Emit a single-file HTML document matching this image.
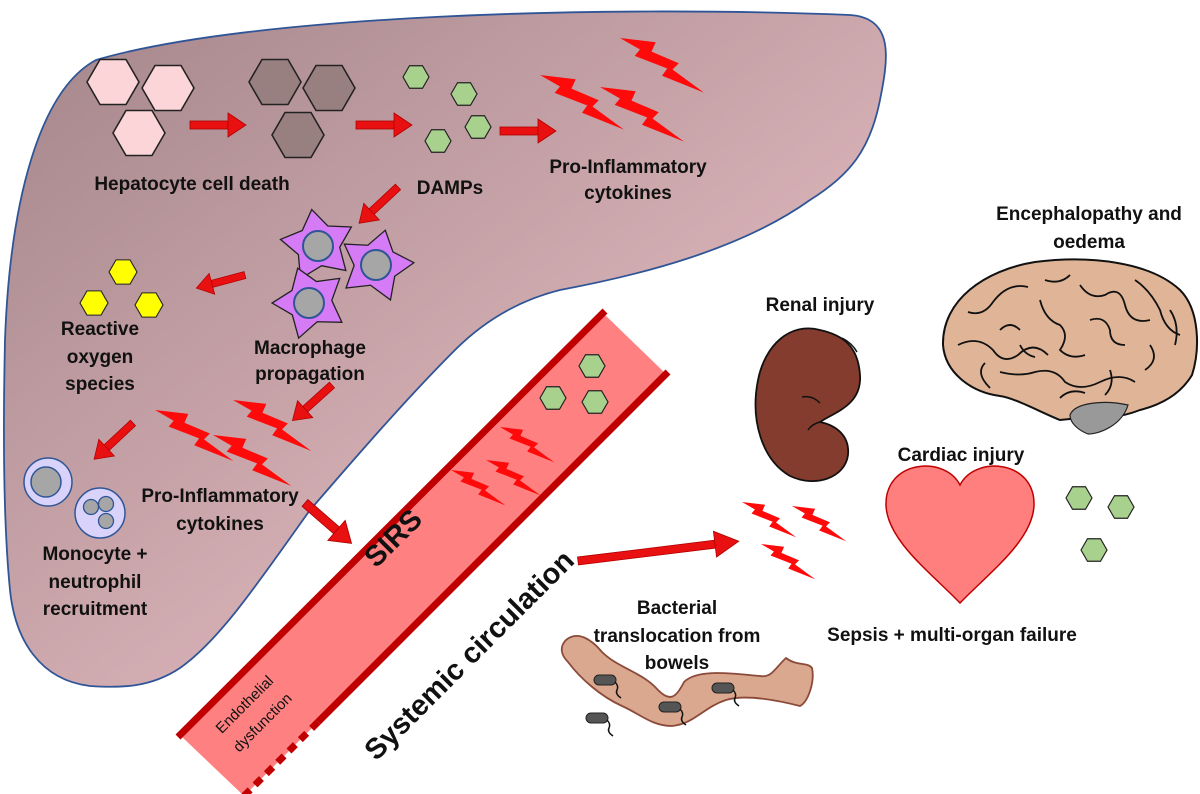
<!DOCTYPE html>
<html><head><meta charset="utf-8"><style>
html,body{margin:0;padding:0;background:#fff}
svg{display:block}
text{font-family:"Liberation Sans",sans-serif;font-weight:bold;fill:#111}
</style></head><body>
<svg width="1200" height="794" viewBox="0 0 1200 794" xmlns="http://www.w3.org/2000/svg">
<defs>
<linearGradient id="lg" x1="0" y1="0" x2="1" y2="1">
<stop offset="0" stop-color="#a3858a"/><stop offset="0.6" stop-color="#d4aeb3"/><stop offset="1" stop-color="#e2bcc0"/>
</linearGradient>
<path id="bolt" d="M0,0 L34,4 L30,13 L56,24 L50,30 L80,52 L40,36 L45,29 L14,17 L19,11 Z" fill="#ff0a0a"/>
<polygon id="hx" points="-1,0 -0.5,-0.866 0.5,-0.866 1,0 0.5,0.866 -0.5,0.866"/>
<g id="arr"><rect x="0" y="-4" width="40" height="8" fill="#e81010" stroke="#b00000" stroke-width="0.8"/><polygon points="38,-12 56,0 38,12" fill="#e81010" stroke="#b00000" stroke-width="0.8"/></g>
<path id="star" d="M0,-36 L13,-17 L36,-12 L21,6 L23,30 L0,21 L-23,30 L-21,6 L-36,-12 L-13,-17 Z" fill="#d57bf5" stroke="#222" stroke-width="1.3"/>
<g id="bac"><rect x="-11" y="-5" width="22" height="10" rx="5" fill="#555" stroke="#222"/><path d="M10,2 q4,4 2,8 q-2,4 4,8" stroke="#111" fill="none" stroke-width="1.5"/></g>
</defs>

<path d="M96,60 C250,15 600,5 850,15 C895,18 888,60 880,100 C870,150 850,175 810,200 C740,250 640,275 560,290 C520,300 485,320 455,350 C400,405 345,470 310,510 C260,580 220,640 180,668 C150,688 120,688 90,686 C40,680 15,640 10,590 C3,520 3,430 5,340 C10,200 40,90 96,60 Z" fill="url(#lg)" stroke="#2f5597" stroke-width="1.8"/>

<g stroke="#222" stroke-width="0.06">
<use href="#hx" transform="translate(113,82) scale(26)" fill="#fcd5d8"/>
<use href="#hx" transform="translate(168,88) scale(26)" fill="#fcd5d8"/>
<use href="#hx" transform="translate(139,133) scale(26)" fill="#fcd5d8"/>
<use href="#hx" transform="translate(275,82) scale(26)" fill="#998080"/>
<use href="#hx" transform="translate(329,88) scale(26)" fill="#998080"/>
<use href="#hx" transform="translate(298,135) scale(26)" fill="#998080"/>
</g>
<g fill="#a9d18e" stroke="#222" stroke-width="0.09">
<use href="#hx" transform="translate(416,77) scale(13)"/>
<use href="#hx" transform="translate(464,94) scale(13)"/>
<use href="#hx" transform="translate(478,127) scale(13)"/>
<use href="#hx" transform="translate(438,141) scale(13)"/>
</g>
<g fill="#ffff00" stroke="#222" stroke-width="0.08">
<use href="#hx" transform="translate(123,272) scale(14)"/>
<use href="#hx" transform="translate(94,303) scale(14)"/>
<use href="#hx" transform="translate(149,305) scale(14)"/>
</g>

<use href="#arr" transform="translate(190,125)"/>
<use href="#arr" transform="translate(356,125)"/>
<use href="#arr" transform="translate(500,131)"/>
<use href="#arr" transform="translate(398,187) rotate(137) scale(0.95)"/>
<use href="#arr" transform="translate(245,275) rotate(165) scale(0.9)"/>
<use href="#arr" transform="translate(332,385) rotate(138) scale(0.95)"/>
<use href="#arr" transform="translate(133,423) rotate(137) scale(0.95)"/>
<use href="#arr" transform="translate(305,503) rotate(41) scale(1.1)"/>
<g transform="translate(578,561) rotate(-7)"><rect x="0" y="-4" width="140" height="8" fill="#e81010" stroke="#b00000" stroke-width="0.8"/><polygon points="138,-13 162,0 138,13" fill="#e81010" stroke="#b00000" stroke-width="0.8"/></g>

<g><use href="#star" transform="translate(318,245) rotate(-10)"/><circle cx="318" cy="246" r="15" fill="#a6a6a6" stroke="#2f5597" stroke-width="2"/></g>
<g><use href="#star" transform="translate(376,265) rotate(15)"/><circle cx="376" cy="265" r="15" fill="#a6a6a6" stroke="#2f5597" stroke-width="2"/></g>
<g><use href="#star" transform="translate(310,302) rotate(-20)"/><circle cx="309" cy="303" r="15" fill="#a6a6a6" stroke="#2f5597" stroke-width="2"/></g>

<circle cx="48" cy="482" r="24" fill="#d9d2fb" stroke="#2f5597" stroke-width="1.5"/>
<circle cx="46" cy="482" r="15" fill="#a6a6a6" stroke="#2f5597" stroke-width="1.5"/>
<circle cx="100" cy="513" r="25" fill="#d9d2fb" stroke="#2f5597" stroke-width="1.5"/>
<circle cx="91" cy="507" r="7.5" fill="#a6a6a6" stroke="#2f5597" stroke-width="1.3"/>
<circle cx="106" cy="504" r="7.5" fill="#a6a6a6" stroke="#2f5597" stroke-width="1.3"/>
<circle cx="106" cy="521" r="7.5" fill="#a6a6a6" stroke="#2f5597" stroke-width="1.3"/>

<use href="#bolt" transform="translate(540,75) scale(1.05)"/>
<use href="#bolt" transform="translate(600,87) scale(1.05)"/>
<use href="#bolt" transform="translate(620,38) scale(1.05)"/>
<use href="#bolt" transform="translate(155,410) scale(0.98)"/>
<use href="#bolt" transform="translate(233,400) scale(0.98)"/>
<use href="#bolt" transform="translate(213,435) scale(0.98)"/>

<polygon points="180,735 603,313 666,374 244,796" fill="#ff8080"/>
<line x1="178" y1="737" x2="605" y2="311" stroke="#c00000" stroke-width="7"/>
<line x1="668" y1="372" x2="318" y2="722" stroke="#c00000" stroke-width="7"/>
<line x1="318" y1="722" x2="244" y2="796" stroke="#c00000" stroke-width="7" stroke-dasharray="9,7"/>
<g fill="#a9d18e" stroke="#222" stroke-width="0.09">
<use href="#hx" transform="translate(592,366) scale(13)"/>
<use href="#hx" transform="translate(553,398) scale(13)"/>
<use href="#hx" transform="translate(595,402) scale(13)"/>
</g>
<use href="#bolt" transform="translate(500,427) scale(0.68)"/>
<use href="#bolt" transform="translate(486,460) scale(0.68)"/>
<use href="#bolt" transform="translate(451,470) scale(0.68)"/>
<text transform="translate(400,545) rotate(-45)" text-anchor="middle" font-size="29">SIRS</text>
<text transform="translate(476,662) rotate(-45)" text-anchor="middle" font-size="29">Systemic circulation</text>
<text transform="translate(248,708) rotate(-45)" text-anchor="middle" font-size="15" style="font-weight:normal">Endothelial</text>
<text transform="translate(266,726) rotate(-45)" text-anchor="middle" font-size="15" style="font-weight:normal">dysfunction</text>

<use href="#bolt" transform="translate(742,502) scale(0.68)"/>
<use href="#bolt" transform="translate(792,506) scale(0.68)"/>
<use href="#bolt" transform="translate(761,544) scale(0.68)"/>

<path d="M820,330 C790,322 765,345 758,380 C750,420 762,460 790,476 C815,488 845,478 848,455 C850,435 835,425 820,422 C835,412 862,405 860,375 C858,345 842,335 820,330 Z" fill="#843c2e" stroke="#111" stroke-width="1.8"/>
<path d="M842,338 q10,5 15,14 M802,397 q10,-2 18,6 M820,422 q-8,2 -12,8" stroke="#111" fill="none" stroke-width="1.5"/>

<path d="M960,485 C945,455 885,460 886,505 C887,540 930,572 960,603 C990,572 1033,540 1034,505 C1035,460 975,455 960,485 Z" fill="#ff7f7f" stroke="#c00000" stroke-width="1.5"/>
<g fill="#a9d18e" stroke="#222" stroke-width="0.09">
<use href="#hx" transform="translate(1079,498) scale(13)"/>
<use href="#hx" transform="translate(1121,507) scale(13)"/>
<use href="#hx" transform="translate(1094,550) scale(13)"/>
</g>

<path d="M1060,420 C1040,412 1015,398 1000,396 C970,392 945,372 943,345 C942,300 985,270 1035,262 C1090,255 1150,262 1180,290 C1200,310 1200,350 1192,375 C1180,395 1160,405 1140,410 C1120,418 1095,420 1080,418 Z" fill="#dfb497" stroke="#111" stroke-width="2"/>
<path d="M1070,415 C1075,402 1105,400 1128,405 C1122,425 1100,434 1088,434 C1078,430 1070,423 1070,415 Z" fill="#999" stroke="#222" stroke-width="1.2"/>
<g stroke="#111" stroke-width="1.8" fill="none">
<path d="M958,345 q20,-10 35,5 q10,15 25,5 q15,-15 30,0"/>
<path d="M968,312 q15,5 25,-10 q15,-20 35,-15 M1000,330 q10,-10 20,0"/>
<path d="M1040,300 q5,20 20,25 q10,10 0,25 q10,10 25,5 M1045,280 q15,5 25,-5"/>
<path d="M1080,285 q10,15 25,10 q15,-10 20,10 q5,20 25,15 M1090,320 q15,-5 20,10 q0,15 15,15"/>
<path d="M1135,280 q15,10 25,30 q5,20 20,25 M1150,345 q10,15 -5,25 M1170,310 q10,15 5,35"/>
<path d="M1000,372 q20,5 35,0 q20,-5 30,10 q15,10 35,0 q20,-10 35,0 M1060,398 q10,-10 25,-5"/>
<path d="M990,388 q-15,-15 -5,-25 M1020,345 q5,10 15,12 M1110,370 q5,15 -5,25"/>
</g>

<path d="M566,640 C578,630 592,640 602,652 C618,668 642,672 658,690 C670,702 676,698 684,682 C698,668 735,674 760,676 C772,678 775,668 786,658 C796,666 808,662 812,668 C815,682 808,702 800,706 C776,700 745,694 726,700 C704,707 694,724 672,726 C652,726 640,714 622,706 C600,696 580,678 568,662 C560,654 560,646 566,640 Z" fill="#d9a88e" stroke="#8b4a3a" stroke-width="1.8"/>
<use href="#bac" transform="translate(605,680)"/>
<use href="#bac" transform="translate(670,707)"/>
<use href="#bac" transform="translate(723,688)"/>
<use href="#bac" transform="translate(597,718)"/>

<g font-size="19" text-anchor="middle">
<text x="192" y="190">Hepatocyte cell death</text>
<text x="450" y="194">DAMPs</text>
<text x="628" y="173">Pro-Inflammatory</text>
<text x="628" y="199">cytokines</text>
<text x="100" y="335">Reactive</text>
<text x="100" y="363">oxygen</text>
<text x="100" y="390">species</text>
<text x="310" y="354">Macrophage</text>
<text x="310" y="380">propagation</text>
<text x="220" y="502">Pro-Inflammatory</text>
<text x="220" y="530">cytokines</text>
<text x="95" y="560">Monocyte +</text>
<text x="95" y="588">neutrophil</text>
<text x="95" y="615">recruitment</text>
<text x="1089" y="220">Encephalopathy and</text>
<text x="1089" y="248">oedema</text>
<text x="820" y="311">Renal injury</text>
<text x="961" y="461">Cardiac injury</text>
<text x="952" y="641">Sepsis + multi-organ failure</text>
<text x="677" y="614">Bacterial</text>
<text x="677" y="642">translocation from</text>
<text x="677" y="669">bowels</text>
</g>
</svg>
</body></html>
